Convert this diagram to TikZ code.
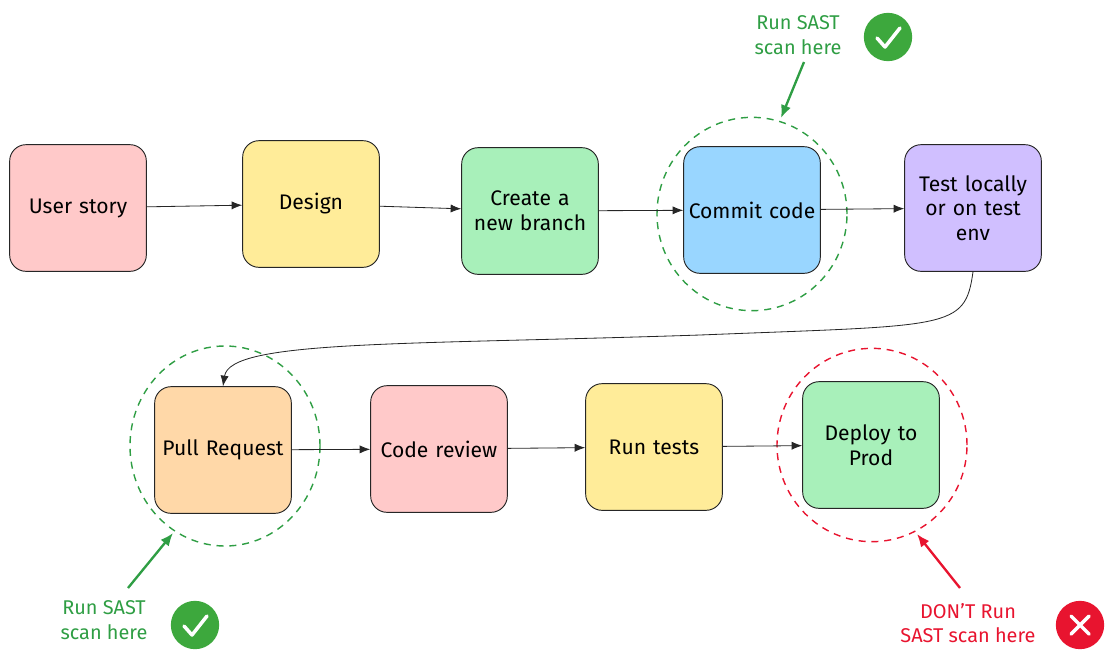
\documentclass[tikz,border=0pt]{standalone}
\usepackage{fontspec}
\setmainfont{Fira Sans}
\usetikzlibrary{arrows.meta,shapes.geometric}
\definecolor{cpink}{HTML}{FFC9C9}
\definecolor{cyellow}{HTML}{FFEC99}
\definecolor{cgreen}{HTML}{A8F0BA}
\definecolor{cblue}{HTML}{99D6FF}
\definecolor{cpurple}{HTML}{D0BFFF}
\definecolor{corange}{HTML}{FFD8A8}
\definecolor{okgreen}{HTML}{2F9E44}
\definecolor{badred}{HTML}{E8142F}
\begin{document}
\begin{tikzpicture}[x=0.03cm,y=-0.03cm,
  box/.style={draw=black!85,line width=0.8pt,rounded corners=14pt,minimum width=4.1cm,minimum height=3.8cm,align=center,text width=3.9cm,inner sep=1pt,font=\fontsize{18}{21}\selectfont},
  flow/.style={-{Latex[length=9pt,width=7pt]},line width=0.7pt,black!85},
  ring/.style={dashed,line width=1.2pt,dash pattern=on 6pt off 5pt},
  note/.style={align=center,font=\fontsize{17}{21}\selectfont},
  pointer/.style={-{Latex[length=11pt,width=9pt]},line width=2pt}]
\useasboundingbox (0,0) rectangle (1115,659);
% circles
\node[ring,draw=okgreen,ellipse,minimum width=5.7cm,minimum height=5.8cm] (c1) at (752,214) {};
\node[ring,draw=okgreen,ellipse,minimum width=5.7cm,minimum height=6.0cm] (c2) at (225,446) {};
\node[ring,draw=badred,ellipse,minimum width=5.7cm,minimum height=5.8cm] (c3) at (872,445) {};
% boxes
\node[box,fill=cpink] (us) at (78,208) {User story};
\node[box,fill=cyellow] (de) at (311,204) {Design};
\node[box,fill=cgreen] (nb) at (530,211) {Create a\\new branch};
\node[box,fill=cblue] (cc) at (752,210) {Commit code};
\node[box,fill=cpurple] (tl) at (973,208) {Test locally\\or on test\\env};
\node[box,fill=corange] (pr) at (223,450) {Pull Request};
\node[box,fill=cpink] (cr) at (439,449) {Code review};
\node[box,fill=cyellow] (rt) at (654,447) {Run tests};
\node[box,fill=cgreen] (dp) at (871,445) {Deploy to\\Prod};
% flow
\draw[flow] (us) -- (de);
\draw[flow] (de) -- (nb);
\draw[flow] (nb) -- (cc);
\draw[flow] (cc) -- (tl);
\draw[flow] (tl.south) .. controls (965,330) and (950,325) .. (700,335)
  .. controls (400,345) and (230,340) .. (pr.north);
\draw[flow] (pr) -- (cr);
\draw[flow] (cr) -- (rt);
\draw[flow] (rt) -- (dp);
% notes
\node[note,text=okgreen] (n1) at (798,35) {Run SAST\\scan here};
\node[note,text=okgreen] (n2) at (104,620) {Run SAST\\scan here};
\node[note,text=badred] (n3) at (968,623) {DON'T Run\\SAST scan here};
\coordinate (p1) at (781,118);
\coordinate (p2) at (173,533);
\coordinate (p3) at (917,534);
\draw[pointer,okgreen] (804,62) -- (p1);
\draw[pointer,okgreen] (128,588) -- (p2);
\draw[pointer,badred] (960,588) -- (p3);
% badges
\node[circle,fill=okgreen!90!lime,minimum size=1.45cm] (b1) at (888,37) {};
\draw[white,line width=3pt,line cap=round,line join=round] (877,38) -- (885,47) -- (900,28);
\node[circle,fill=okgreen!90!lime,minimum size=1.45cm] (b2) at (195,625) {};
\draw[white,line width=3pt,line cap=round,line join=round] (184,626) -- (192,635) -- (207,616);
\node[circle,fill=badred,minimum size=1.45cm] (b3) at (1080,625) {};
\draw[white,line width=3pt,line cap=round] (1071,616) -- (1089,634) (1089,616) -- (1071,634);
\end{tikzpicture}
\end{document}
